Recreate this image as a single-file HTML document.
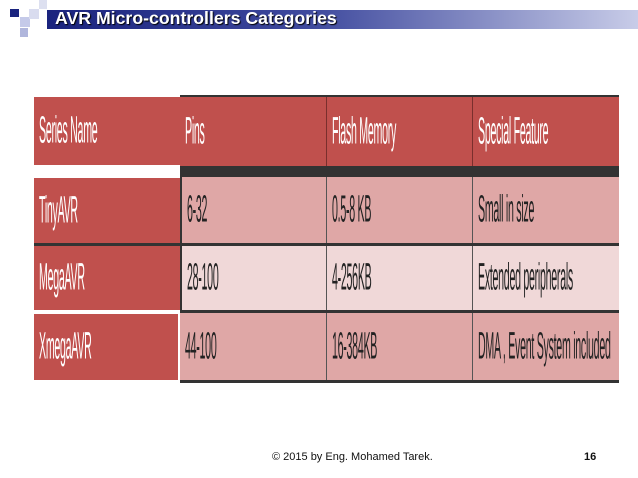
<!DOCTYPE html>
<html><head><meta charset="utf-8"><style>
body{margin:0;width:638px;height:478px;background:#fff;position:relative;overflow:hidden;font-family:"Liberation Sans",sans-serif}
.a{position:absolute}
.c{position:absolute;box-sizing:border-box;overflow:visible}
.t{position:absolute;left:5px;top:50%;transform-origin:left center;transform:translateY(-50%) scaleX(0.28);font-size:38px;white-space:nowrap;letter-spacing:-1px}
.h{background:#c0504d;color:#fff}
.l{background:#dfa7a6;color:#222}
.m{background:#f0d8d8;color:#222}
</style></head><body>
<div class="a" style="left:10px;top:9px;width:9px;height:8px;background:#1a237e"></div>
<div class="a" style="left:20px;top:17px;width:10px;height:10px;background:#c5cae9"></div>
<div class="a" style="left:29px;top:9px;width:10px;height:10px;background:#d9dcef"></div>
<div class="a" style="left:39px;top:0px;width:8px;height:9px;background:#dde0f0"></div>
<div class="a" style="left:20px;top:28px;width:8px;height:9px;background:#b0b6dc"></div>
<div class="a" style="left:47px;top:10px;width:591px;height:19px;background:linear-gradient(90deg,#1a237e 0%,#3f4a9e 45%,#c8cce8 100%)"></div>
<div class="a" style="left:55px;top:8px;color:#fff;font-weight:bold;font-size:17.7px;text-shadow:1px 1px 1px #000">AVR Micro-controllers Categories</div>

<div class="c h" style="left:34px;top:97px;width:146px;height:68px"><span class="t">Series Name</span></div>
<div class="a" style="left:180px;top:95px;width:439px;height:2px;background:#333"></div>
<div class="c h" style="left:180px;top:97px;width:147px;height:69px;border-right:1px solid #7a2f2d"><span class="t">Pins</span></div>
<div class="c h" style="left:327px;top:97px;width:146px;height:69px;border-right:1px solid #7a2f2d"><span class="t">Flash Memory</span></div>
<div class="c h" style="left:473px;top:97px;width:146px;height:69px"><span class="t">Special Feature</span></div>
<div class="a" style="left:180px;top:166px;width:439px;height:11px;background:#333"></div>

<div class="c h" style="left:34px;top:178px;width:146px;height:65px"><span class="t">TinyAVR</span></div>
<div class="c l" style="left:180px;top:177px;width:147px;height:66px;border-left:2px solid #333;border-right:1px solid #555"><span class="t">6-32</span></div>
<div class="c l" style="left:327px;top:177px;width:146px;height:66px;border-right:1px solid #555"><span class="t">0.5-8 KB</span></div>
<div class="c l" style="left:473px;top:177px;width:146px;height:66px"><span class="t">Small in size</span></div>
<div class="a" style="left:34px;top:243px;width:585px;height:3px;background:#333"></div>

<div class="c h" style="left:34px;top:246px;width:146px;height:64px"><span class="t">MegaAVR</span></div>
<div class="c m" style="left:180px;top:246px;width:147px;height:64px;border-left:2px solid #333;border-right:1px solid #555"><span class="t">28-100</span></div>
<div class="c m" style="left:327px;top:246px;width:146px;height:64px;border-right:1px solid #555"><span class="t">4-256KB</span></div>
<div class="c m" style="left:473px;top:246px;width:146px;height:64px"><span class="t">Extended peripherals</span></div>
<div class="a" style="left:180px;top:310px;width:439px;height:3px;background:#333"></div>

<div class="c h" style="left:34px;top:314px;width:144px;height:66px"><span class="t">XmegaAVR</span></div>
<div class="c l" style="left:180px;top:313px;width:147px;height:67px;border-right:1px solid #555"><span class="t">44-100</span></div>
<div class="c l" style="left:327px;top:313px;width:146px;height:67px;border-right:1px solid #555"><span class="t">16-384KB</span></div>
<div class="c l" style="left:473px;top:313px;width:146px;height:67px"><span class="t">DMA , Event System included</span></div>
<div class="a" style="left:180px;top:380px;width:439px;height:3px;background:#333"></div>

<div class="a" style="left:272px;top:451px;font-size:11px;color:#111">© 2015 by Eng. Mohamed Tarek.</div>
<div class="a" style="left:584px;top:451px;font-size:11px;font-weight:bold;color:#111">16</div>
</body></html>
